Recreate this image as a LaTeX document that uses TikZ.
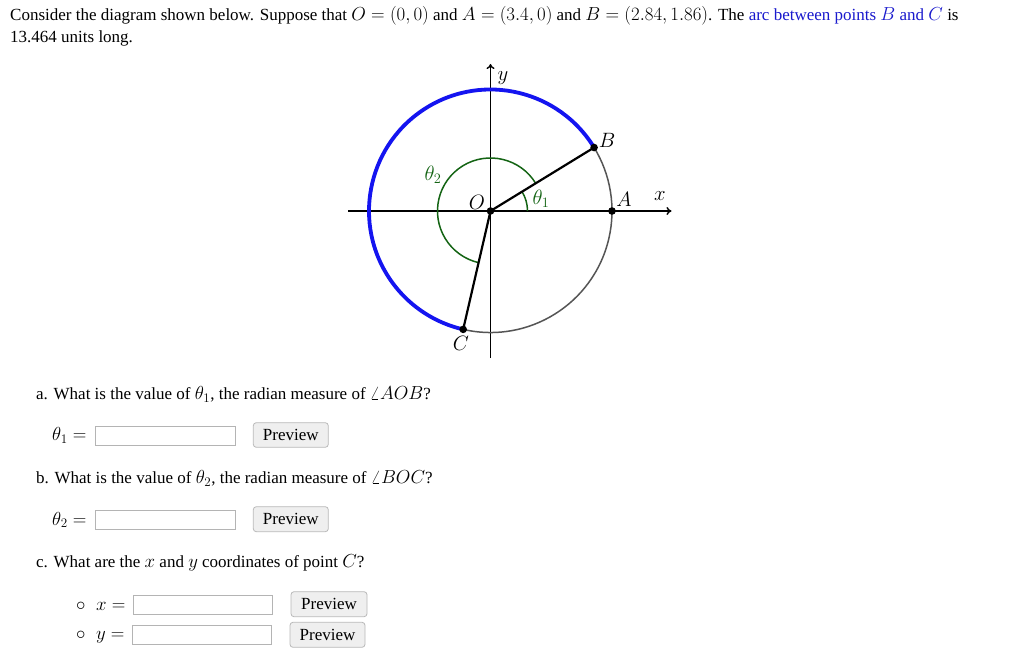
\documentclass[tikz,border=0pt]{standalone}
\usepackage{graphicx}
\usepackage{fontspec}
\setmainfont{Liberation Serif}
\newcommand\mth[1]{\scalebox{1.09}{$#1$}}
\usetikzlibrary{arrows.meta}
\definecolor{linkblue}{RGB}{25,25,205}
\definecolor{arcblue}{RGB}{20,20,240}
\definecolor{anggreen}{RGB}{20,100,20}
\definecolor{circgray}{RGB}{85,85,85}
\definecolor{btnfill}{RGB}{239,239,239}
\definecolor{btnline}{RGB}{185,185,185}
\definecolor{boxline}{RGB}{180,180,180}
\tikzset{
  txt/.style={anchor=base west, inner sep=0pt, font=\fontsize{17}{21}\selectfont},
  lbl/.style={inner sep=0pt, font=\fontsize{19.5}{21}\selectfont},
  glbl/.style={lbl, text=anggreen},
  inbox/.style={draw=boxline, fill=white, line width=0.8pt},
  btn/.style={draw=btnline, fill=btnfill, line width=0.8pt, rounded corners=3pt},
  btntxt/.style={inner sep=0pt, font=\fontsize{17}{20}\selectfont},
  axis/.style={line width=1.4pt, -{To[length=5pt,width=8pt]}},
}
\begin{document}
\begin{tikzpicture}[x=1pt,y=-1pt]
\useasboundingbox[fill=white] (0,0) rectangle (1024,668);
% header text
\node[txt] (l1) at (10,20.7) {Consider the diagram shown below. Suppose that \mth{O=(0,0)} and \mth{A=(3.4,0)} and \mth{B=(2.84,1.86)}. The \textcolor{linkblue}{arc between points \mth{B} and \mth{C}} is};
\node[txt] (l2) at (10,42.7) {13.464 units long.};
% diagram
\begin{scope}[shift={(490.5,211)}, y={(0,1pt)}]
  \coordinate (O) at (0,0);
  \coordinate (A) at (0:121.5);
  \coordinate (B) at (31.5:121.5);
  \coordinate (C) at (257:121.5);
  \coordinate (xl) at (-142.5,0);
  \coordinate (xr) at (181,0);
  \coordinate (yb) at (0,-147);
  \coordinate (yt) at (0,147);
  \draw[axis] (xl) -- (xr);
  \draw[axis] (yb) -- (yt);
  \draw[circgray, line width=1.5pt] (C) arc[start angle=257, end angle=391.5, radius=121.5];
  \draw[arcblue, line width=3.8pt] (B) arc[start angle=31.5, end angle=257, radius=121.5];
  \draw[anggreen, line width=1.5pt] (37,0) arc[start angle=0, end angle=31.5, radius=37];
  \draw[anggreen, line width=1.5pt] (31.5:53) arc[start angle=31.5, end angle=257, radius=53];
  \draw[line width=2.2pt] (O) -- (B);
  \draw[line width=2.2pt] (O) -- (C);
  \fill (O) circle[radius=3.8];
  \fill (A) circle[radius=3.8];
  \fill (B) circle[radius=3.8];
  \fill (C) circle[radius=3.8];
\end{scope}
\node[lbl] (ly) at (503,78) {$y$};
\node[lbl] (lB) at (607,140) {$B$};
\node[lbl] (lA) at (624,199) {$A$};
\node[lbl] (lx) at (660,196) {$x$};
\node[lbl] (lO) at (477,202) {$O$};
\node[glbl] (lt1) at (541,199) {$\theta_1$};
\node[glbl] (lt2) at (433,175) {$\theta_2$};
\node[lbl] (lC) at (461,343) {$C$};
% questions
\node[txt] (qa) at (36,399.3) {a. What is the value of \mth{\theta_1}, the radian measure of \mth{\angle AOB}?};
\node[txt] (ea) at (52,440.7) {\mth{\theta_1=}};
\draw[inbox] (95.3,426.7) rectangle (235.3,445.3);
\draw[btn] (253.3,422.7) rectangle (328.3,447.3);
\node[btntxt] (pa) at (290.8,435) {Preview};
\node[txt] (qb) at (36,483.3) {b. What is the value of \mth{\theta_2}, the radian measure of \mth{\angle BOC}?};
\node[txt] (eb) at (52,525) {\mth{\theta_2=}};
\draw[inbox] (95.3,510.7) rectangle (235.3,529.3);
\draw[btn] (253.3,506.7) rectangle (328.3,531.7);
\node[btntxt] (pb) at (290.8,519) {Preview};
\node[txt] (qc) at (36,567.3) {c. What are the \mth{x} and \mth{y} coordinates of point \mth{C}?};
\node[txt] (ex) at (76,610) {\mth{\circ\;\;x=}};
\draw[inbox] (133.3,595.7) rectangle (272.7,614.3);
\draw[btn] (291,591.7) rectangle (367,616.7);
\node[btntxt] (px) at (329,604) {Preview};
\node[txt] (ey) at (76,639.3) {\mth{\circ\;\;y=}};
\draw[inbox] (132.3,625.7) rectangle (271.7,644.3);
\draw[btn] (290,622.3) rectangle (365,647.3);
\node[btntxt] (py) at (327.5,634.5) {Preview};
\end{tikzpicture}
\end{document}
